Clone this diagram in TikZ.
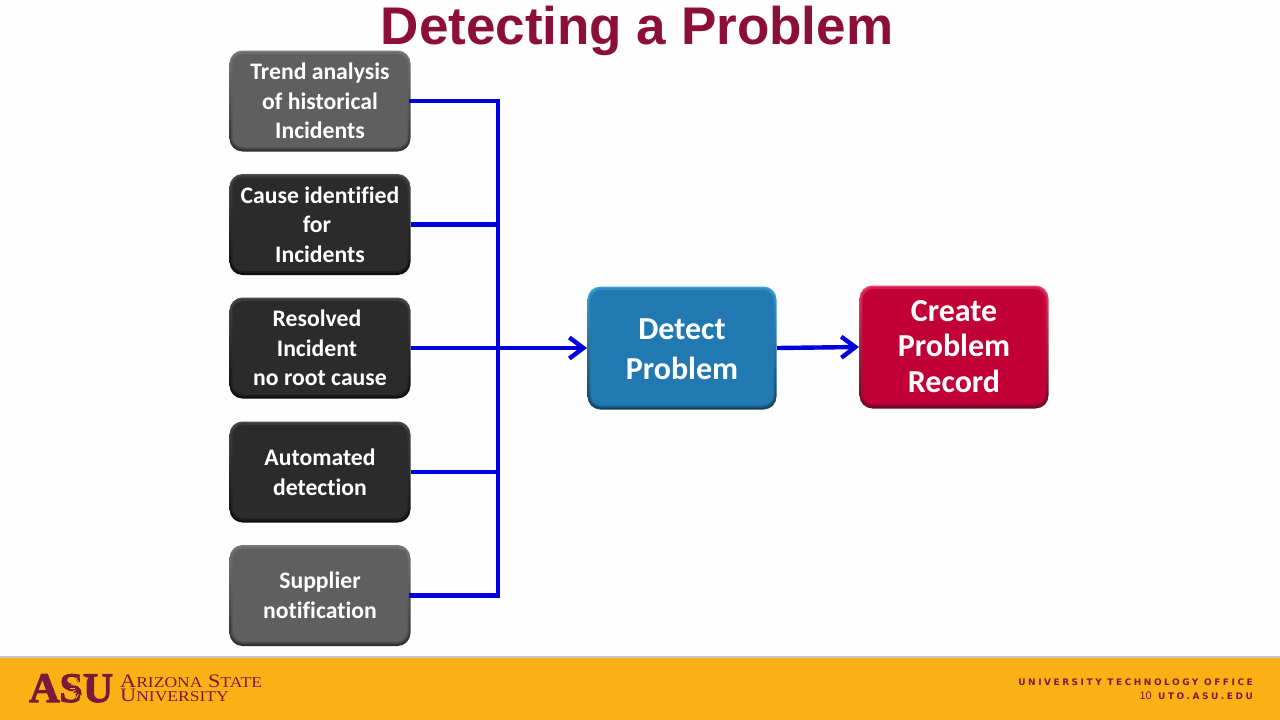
\documentclass[tikz,border=0pt]{standalone}
\usepackage{fontspec}
\setmainfont[RawFeature={-liga}]{Carlito}
\newfontfamily\titlefont{Liberation Sans}
\newfontfamily\serifface[FakeStretch=1.17]{Liberation Serif}
\newfontfamily\heavyface[FakeBold=2.5]{Liberation Serif}
\newfontfamily\widefont[LetterSpace=28]{DejaVu Sans}
\usetikzlibrary{arrows.meta,calc}
\definecolor{pagebg}{HTML}{FEFEFE}
\definecolor{maroon}{HTML}{8C0F38}
\definecolor{logomaroon}{HTML}{7A1A3A}
\definecolor{gold}{HTML}{FBB116}
\definecolor{link}{HTML}{0000DC}
\definecolor{greyface}{HTML}{5F5F5F}
\definecolor{greytop}{HTML}{7A7A7A}
\definecolor{greybot}{HTML}{2E2E2E}
\definecolor{darkface}{HTML}{2B2B2B}
\definecolor{darktop}{HTML}{4A4A4A}
\definecolor{darkbot}{HTML}{0C0C0C}
\definecolor{blueface}{HTML}{2279B2}
\definecolor{bluetop}{HTML}{3DA2D2}
\definecolor{bluebot}{HTML}{123F5C}
\definecolor{redface}{HTML}{C00037}
\definecolor{redtop}{HTML}{E8406A}
\definecolor{redbot}{HTML}{650A22}
\newcommand{\trail}{\hbox to 6pt{}}
\tikzset{
  x=1pt,y=-1pt,
  smalltext/.style={font=\bfseries\fontsize{23.7}{29.7}\selectfont},
  bigtext/.style={font=\bfseries\fontsize{32}{39.5}\selectfont},
  bigtextB/.style={font=\bfseries\fontsize{32}{35.6}\selectfont},
  wire/.style={draw=link,line width=4.4pt},
  arrowwire/.style={wire,-{Straight Barb[length=14pt,width=21pt,line width=4.4pt]}},
  smalllabel/.style={inner sep=0pt,anchor=east,text=logomaroon,font=\widefont\bfseries\fontsize{9}{9}\selectfont},
}
% name, cx, cy, w, h, top edge, bottom edge, face colour, text style + text
\newcommand{\bevbox}[9]{%
  \shade[top color=#6,bottom color=#7,rounded corners=13pt] ({#2-#4/2},{#3-#5/2}) rectangle ({#2+#4/2},{#3+#5/2});
  \shade[top color=#8!50!#6,bottom color=#8!50!#7,rounded corners=12pt] ({#2-#4/2+1.5},{#3-#5/2+1.5}) rectangle ({#2+#4/2-1.5},{#3+#5/2-2});
  \fill[#8,rounded corners=11pt] ({#2-#4/2+3},{#3-#5/2+3.5}) rectangle ({#2+#4/2-3},{#3+#5/2-4});
  \node[inner sep=0pt,minimum width=#4,minimum height=#5,align=center,text=white,#9;
}
\begin{document}
\begin{tikzpicture}
\useasboundingbox (0,0) rectangle (1280,720);
\fill[pagebg] (0,0) rectangle (1280,720);
% footer
\fill[gold] (0,657) rectangle (1280,720);
\fill[black!22] (0,656) rectangle (1280,658);
% title
\node[inner sep=0pt,text=maroon,font=\titlefont\bfseries\fontsize{53}{60}\selectfont] (title) at (637,31) {Detecting a Problem};
% boxes
\bevbox{a1}{320}{101}{181}{101}{greytop}{greybot}{greyface}{smalltext] (a1) at (320,101) {Trend analysis\\of historical\\Incidents}}
\bevbox{a2}{320}{224.5}{181}{101}{darktop}{darkbot}{darkface}{smalltext] (a2) at (320,224.5) {Cause identified\\for\trail\\Incidents}}
\bevbox{a3}{320}{348}{181}{101}{darktop}{darkbot}{darkface}{smalltext] (a3) at (320,348) {Resolved\trail\\Incident\trail\\no root cause}}
\bevbox{a4}{320}{472}{181}{101}{darktop}{darkbot}{darkface}{smalltext] (a4) at (320,472) {Automated\\detection}}
\bevbox{a5}{320}{595.5}{181}{101}{greytop}{greybot}{greyface}{smalltext] (a5) at (320,595.5) {Supplier\\notification}}
\bevbox{detect}{682}{348}{189}{123}{bluetop}{bluebot}{blueface}{bigtext] (detect) at (682,349) {Detect\\Problem}}
\bevbox{create}{954}{347}{189}{123}{redtop}{redbot}{redface}{bigtextB] (create) at (954,346.5) {Create\\Problem\\Record}}
% connectors
\coordinate (bus) at (498,348);
\coordinate (detectin) at (587,348);
\coordinate (detectout) at (777,348);
\coordinate (createin) at (859,347);
\draw[wire,line cap=rect] (a1.east) -| (bus);
\draw[wire,line cap=rect] (a5.east) -| (bus);
\draw[wire] (a2.east) -- (a2.east -| bus);
\draw[wire] (a4.east) -- (a4.east -| bus);
\draw[arrowwire] (a3.east) -- (detectin);
\draw[arrowwire] (detectout) -- (createin);
% logo
\node[inner sep=0pt,anchor=base west,text=logomaroon,font=\heavyface\bfseries\fontsize{42}{42}\selectfont] (asu) at (29,702) {ASU};
\foreach \a in {100,120,...,300}
  \draw[gold,line width=.8pt] ($(82,688)+(\a:7)$) -- ($(82,688)+(\a:12)$);
\node[inner sep=0pt,anchor=west,align=left,text=logomaroon,font=\serifface\fontsize{19}{14.5}\selectfont] (az) at (120,688.5) {A{\fontsize{15}{14.5}\selectfont RIZONA} S{\fontsize{15}{14.5}\selectfont TATE}\\U{\fontsize{15}{14.5}\selectfont NIVERSITY}};
% office
\node[smalllabel] (uto) at (1253,682) {UNIVERSITY TECHNOLOGY OFFICE};
\node[smalllabel] (url) at (1253,696) {UTO.ASU.EDU};
\node[inner sep=0pt,anchor=east,text=logomaroon,font=\titlefont\fontsize{11}{11}\selectfont] (num) at (1152,696) {10};
\end{tikzpicture}
\end{document}
